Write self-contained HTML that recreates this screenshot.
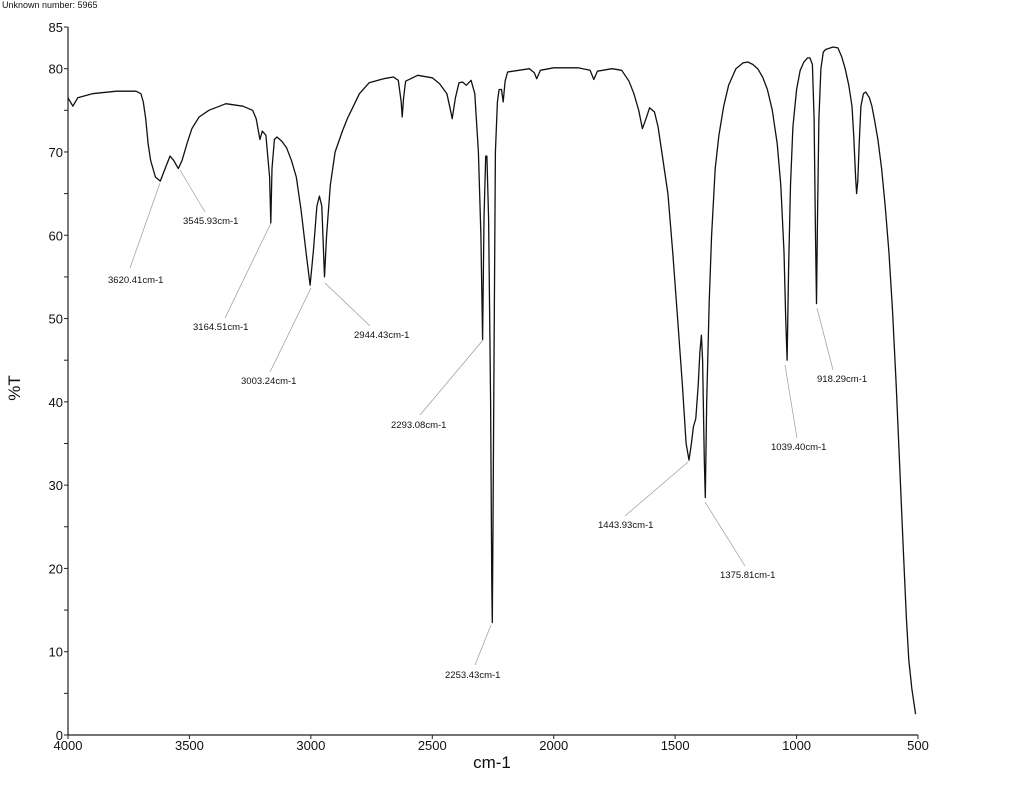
<!DOCTYPE html>
<html><head><meta charset="utf-8"><style>
html,body{margin:0;padding:0;background:#fff;}
svg{display:block;font-family:"Liberation Sans",sans-serif;}
</style></head><body>
<svg id="s" width="1024" height="791" viewBox="0 0 1024 791" xmlns="http://www.w3.org/2000/svg">
<rect width="1024" height="791" fill="#fff"/>
<text x="2" y="8" font-size="9" fill="#111">Unknown number: 5965</text>
<g stroke="#222" stroke-width="1.2" fill="none">
<line x1="68" y1="27" x2="68" y2="735"/>
<line x1="68" y1="735" x2="918" y2="735"/>
</g>
<g id="ticks" stroke="#222" stroke-width="1"></g>
<g id="tl" font-size="13" fill="#111"></g>
<text x="20" y="388" font-size="17" fill="#111" transform="rotate(-90 20 388)" text-anchor="middle">%T</text>
<text x="492" y="768" font-size="17" fill="#111" text-anchor="middle">cm-1</text>
<g stroke="#999" stroke-width="0.7" id="leaders">
<line x1="160" y1="183" x2="130" y2="268"/>
<line x1="180" y1="170" x2="205" y2="212"/>
<line x1="271" y1="223" x2="225" y2="318"/>
<line x1="311" y1="288" x2="270" y2="372"/>
<line x1="325" y1="283" x2="370" y2="326"/>
<line x1="483" y1="340" x2="420" y2="415"/>
<line x1="491" y1="625" x2="475" y2="665"/>
<line x1="688" y1="462" x2="625" y2="516"/>
<line x1="705" y1="502" x2="745" y2="566"/>
<line x1="785" y1="365" x2="797" y2="438"/>
<line x1="817" y1="308" x2="833" y2="370"/>
</g>
<g font-size="9.5" fill="#111">
<text x="108" y="283">3620.41cm-1</text>
<text x="183" y="224">3545.93cm-1</text>
<text x="193" y="330">3164.51cm-1</text>
<text x="241" y="384">3003.24cm-1</text>
<text x="354" y="338">2944.43cm-1</text>
<text x="391" y="428">2293.08cm-1</text>
<text x="445" y="678">2253.43cm-1</text>
<text x="598" y="528">1443.93cm-1</text>
<text x="720" y="578">1375.81cm-1</text>
<text x="771" y="450">1039.40cm-1</text>
<text x="817" y="382">918.29cm-1</text>
</g>
<polyline id="sp" fill="none" stroke="#111" stroke-width="1.3" stroke-linejoin="round"/>
</svg>
<script>
var X=function(w){return 68+(4000-w)*0.24286;};
var Y=function(t){return 735-t*8.329;};
var ns="http://www.w3.org/2000/svg";
var tk=document.getElementById('ticks'),tl=document.getElementById('tl');
for(var v=0;v<=85;v+=5){var y=Y(v);var l=document.createElementNS(ns,'line');l.setAttribute('x1',64);l.setAttribute('x2',68);l.setAttribute('y1',y);l.setAttribute('y2',y);tk.appendChild(l);
if(v%10==0||v==85){var t=document.createElementNS(ns,'text');t.setAttribute('x',63);t.setAttribute('y',y+5);t.setAttribute('text-anchor','end');t.textContent=v;tl.appendChild(t);}}
for(var w=4000;w>=500;w-=500){var x=X(w);var l=document.createElementNS(ns,'line');l.setAttribute('x1',x);l.setAttribute('x2',x);l.setAttribute('y1',735);l.setAttribute('y2',739);tk.appendChild(l);
var t=document.createElementNS(ns,'text');t.setAttribute('x',x);t.setAttribute('y',750);t.setAttribute('text-anchor','middle');t.textContent=w;tl.appendChild(t);}
var p=[4000,76.5,3980,75.5,3960,76.5,3900,77,3800,77.3,3720,77.3,3700,77.0,3690,76,3680,74,3670,71,3660,69,3640,67,3620,66.5,3600,68,3580,69.5,3565,69,3546,68,3530,69,3510,71,3490,72.8,3460,74.2,3420,75,3350,75.8,3280,75.5,3240,75,3225,74,3210,71.5,3200,72.5,3185,72,3170,67,3165,61.5,3160,68,3150,71.5,3140,71.8,3120,71.3,3100,70.5,3080,69,3060,67,3040,63,3020,58,3003,54,2990,58,2975,63.5,2965,64.7,2955,63.5,2944,55,2935,60,2920,66,2900,70,2870,72.5,2850,74,2820,75.8,2800,77,2760,78.3,2700,78.8,2660,79,2640,78.6,2628,76,2624,74.2,2618,76.5,2610,78.5,2560,79.2,2500,78.9,2470,78.2,2440,77,2425,75,2418,74,2405,76.5,2390,78.3,2375,78.4,2360,78,2340,78.6,2325,77,2310,70,2300,60,2293,47.5,2287,62,2280,69.5,2275,69.5,2268,62,2260,40,2255,18,2253,13.5,2250,25,2246,45,2240,70,2232,76,2225,77.5,2215,77.5,2208,76,2200,78.5,2190,79.6,2100,80,2080,79.5,2070,78.8,2055,79.8,2000,80.1,1900,80.1,1850,79.8,1835,78.7,1820,79.7,1760,80,1720,79.8,1690,78.5,1670,77,1650,75,1635,72.8,1620,74,1605,75.3,1585,74.8,1570,73,1555,70,1530,65,1510,58,1490,50,1470,42,1455,35,1443,33,1433,35,1425,37,1415,38,1405,42,1398,46,1392,48,1387,45,1380,33,1375.8,28.5,1370,40,1360,52,1350,60,1335,68,1320,72,1300,75.5,1280,78,1250,80,1220,80.7,1200,80.8,1180,80.5,1160,80,1140,79,1120,77.5,1100,75,1080,71,1065,66,1052,58,1045,50,1039,45,1033,56,1025,66,1015,73,1000,77.5,985,79.8,970,80.8,955,81.3,945,81.3,935,80.5,928,74,922,60,918,51.8,914,62,908,74,900,80,890,82,880,82.3,850,82.6,830,82.5,815,81.5,800,80,785,78,772,75.5,765,72,757,67,753,65,748,66.5,742,71,735,75.5,725,77,715,77.2,700,76.5,690,75.5,680,74,665,71.5,650,68,635,63.5,620,58,605,51,590,42,575,32,560,22,548,14,538,9,525,5.5,510,2.5];
var s=[];for(var i=0;i<p.length;i+=2){s.push(X(p[i]).toFixed(1)+','+Y(p[i+1]).toFixed(1));}
document.getElementById('sp').setAttribute('points',s.join(' '));
</script>
</body></html>
